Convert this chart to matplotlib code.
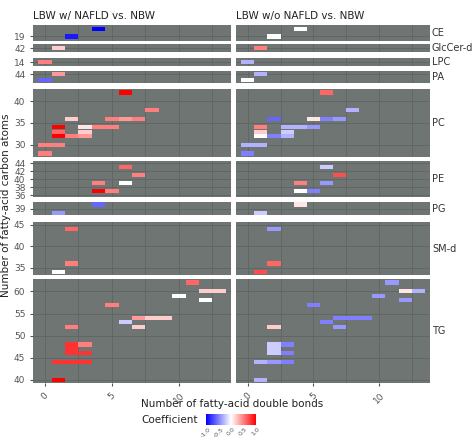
import numpy as np
import matplotlib
matplotlib.use("Agg")
import matplotlib.pyplot as plt
from matplotlib.colors import LinearSegmentedColormap, Normalize
from matplotlib.ticker import MultipleLocator

classes = ["CE", "GlcCer-d", "LPC", "PA", "PC", "PE", "PG", "SM-d", "TG"]

# (carbons, double bonds, coef LBW w/ NAFLD, coef LBW w/o NAFLD)
ce = [(20, 4, -1.0, 0.0), (19, 2, -0.9, 0.0)]
glccer = [(42, 1, 0.2, 0.5)]
lpc = [(14, 0, 0.5, -0.3)]
pa = [(44, 1, 0.4, -0.3), (43, 0, -0.6, 0.0)]
pc = [(42, 6, 1.0, 0.6), (38, 8, 0.5, -0.3), (36, 2, 0.2, -0.6), (36, 5, 0.5, 0.1),
      (36, 6, 0.4, -0.5), (36, 7, 0.5, -0.4), (34, 1, 1.0, 0.5), (34, 3, 0.1, -0.3),
      (34, 4, 0.5, -0.3), (34, 5, 0.5, -0.4), (33, 1, 0.6, 0.2), (33, 3, 0.2, -0.2),
      (32, 1, 1.0, 0.0), (32, 2, 0.5, -0.5), (32, 3, 0.4, -0.3), (30, 0, 0.5, -0.3),
      (30, 1, 0.5, -0.3), (28, 0, 0.5, -0.5)]
pe = [(43, 6, 0.6, -0.2), (41, 7, 0.5, 0.7), (39, 4, 0.5, 0.5), (39, 6, 0.0, -0.4),
      (37, 4, 1.0, 0.0), (37, 5, 0.5, -0.5)]
pg = [(40, 4, -0.6, 0.1), (38, 1, -0.4, -0.2)]
smd = [(44, 2, 0.6, -0.4), (36, 2, 0.5, 0.6), (34, 1, 0.0, 0.7)]
tg = [(62, 11, 0.6, -0.4), (60, 12, 0.2, 0.1), (60, 13, 0.2, -0.3), (59, 10, 0.0, -0.4),
      (58, 12, 0.0, -0.4), (57, 5, 0.5, -0.5), (54, 7, 0.4, -0.5), (54, 8, 0.2, -0.5),
      (54, 9, 0.2, -0.5), (53, 6, -0.2, -0.5), (52, 7, 0.2, -0.4), (52, 2, 0.5, 0.2),
      (48, 2, 0.8, -0.2), (48, 3, 0.5, -0.5), (47, 2, 0.8, -0.2), (46, 2, 0.8, -0.2),
      (46, 3, 0.8, -0.5), (44, 1, 0.8, -0.3), (44, 2, 0.8, -0.4), (44, 3, 0.8, -0.5),
      (40, 1, 1.0, -0.3)]
data = [ce, glccer, lpc, pa, pc, pe, pg, smd, tg]

ylims = [(18.4, 20.5), (41.4, 42.6), (13.4, 14.6), (42.4, 44.6), (27.2, 42.8),
         (35.6, 44.5), (37.5, 40.6), (33.3, 45.7), (39.3, 62.8)]
yticks = [[19], [42], [14], [44], [30, 35, 40], [36, 38, 40, 42, 44], [39],
          [35, 40, 45], [40, 45, 50, 55, 60]]
# panel extents in pixels (top, bottom)
rows_px = [(25, 41), (44, 52), (58, 66), (71, 83), (89, 157), (161, 197),
           (202, 215), (222, 275), (279, 383)]
cols_px = [(33, 231), (236, 430)]
titles = ["LBW w/ NAFLD vs. NBW", "LBW w/o NAFLD vs. NBW"]

W, H = 474, 442
fig = plt.figure(figsize=(W / 100, H / 100), dpi=100)
cmap = LinearSegmentedColormap.from_list("bwr2", ["#0000ff", "#ffffff", "#ff0000"])
norm = Normalize(-1, 1)
bg = "#6e7572"

for r, (top, bot) in enumerate(rows_px):
    # tiles are about 4 px tall in every panel
    th = min(1.0, 4.2 * (ylims[r][1] - ylims[r][0]) / (bot - top))
    for c, (left, right) in enumerate(cols_px):
        ax = fig.add_axes([left / W, 1 - bot / H, (right - left) / W, (bot - top) / H])
        ax.set_facecolor(bg)
        for carb, db, cw, cwo in data[r]:
            val = cw if c == 0 else cwo
            ax.add_patch(plt.Rectangle((db - 0.5, carb - th / 2), 1, th,
                                       color=cmap(norm(val)), lw=0))
        ax.set_xlim(-0.9, 13.9)
        ax.set_ylim(*ylims[r])
        ax.xaxis.set_major_locator(MultipleLocator(5))
        ax.xaxis.set_minor_locator(MultipleLocator(2.5))
        ax.set_yticks(yticks[r])
        ax.grid(True, which="both", color="#5e6562", lw=0.6)
        ax.set_axisbelow(True)
        for s in ax.spines.values():
            s.set_visible(False)
        ax.tick_params(colors="#555555", labelsize=6.5, length=2, which="both")
        ax.tick_params(which="minor", length=0)
        if c == 1:
            ax.set_yticklabels([])
            ax.tick_params(axis="y", length=0)
            ax.text(1.01, 0.5, classes[r], transform=ax.transAxes, fontsize=7,
                    va="center", ha="left", color="#333333")
        if r == 0:
            ax.set_title(titles[c], fontsize=7.5, loc="left", pad=4, color="#222222")
        if r < len(rows_px) - 1:
            ax.set_xticklabels([])
            ax.tick_params(axis="x", length=0)
        else:
            ax.set_xticks([0, 5, 10])
            ax.set_xticklabels(["0", "5", "10"], rotation=45)

fig.text(6 / W, 1 - 205 / H, "Number of fatty-acid carbon atoms", rotation=90,
         fontsize=7.5, va="center", ha="center", color="#222222")
fig.text(232 / W, 1 - 404 / H, "Number of fatty-acid double bonds",
         fontsize=7.5, va="center", ha="center", color="#222222")
fig.text(198 / W, 1 - 420 / H, "Coefficient", fontsize=7.5, va="center",
         ha="right", color="#222222")

cax = fig.add_axes([206 / W, 1 - 425 / H, 50 / W, 11 / H])
sm = plt.cm.ScalarMappable(norm=norm, cmap=cmap)
cb = fig.colorbar(sm, cax=cax, orientation="horizontal", ticks=[-1, -0.5, 0, 0.5, 1])
cb.outline.set_visible(False)
cb.ax.set_xticklabels(["-1.0", "-0.5", "0.0", "0.5", "1.0"], rotation=45, fontsize=4.5)
cb.ax.tick_params(length=0, pad=1, colors="#555555")

fig.savefig("out.png", dpi=100)
